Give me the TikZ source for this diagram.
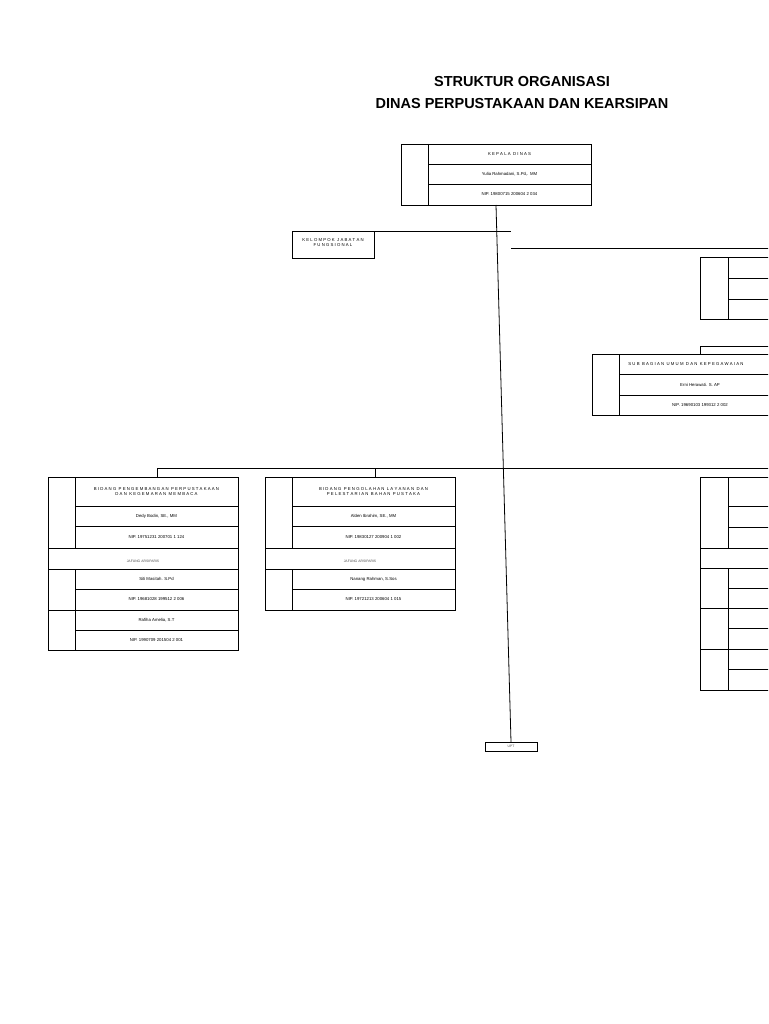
\documentclass[tikz,border=0pt]{standalone}
\usepackage{fontspec}
\setmainfont{Liberation Sans}
\begin{document}
\begin{tikzpicture}[x=1pt,y=-1pt,line width=0.8pt,
  box/.style={draw,anchor=north west,inner sep=0pt,outer sep=0pt},
  tx/.style={font=\fontsize{4.3}{5}\selectfont,align=center,inner sep=0pt},
  jf/.style={font=\fontsize{3.4}{4}\selectfont\color{black!70},inner sep=0pt},
  ttl/.style={font=\fontsize{14.5}{18}\selectfont\bfseries,inner sep=0pt}]
\useasboundingbox (0,0) rectangle (768,1024);
\clip (0,0) rectangle (768,1024);
\node[ttl] (t1) at (522,82) {STRUKTUR ORGANISASI};
\node[ttl] (t2) at (522,104) {DINAS PERPUSTAKAAN DAN KEARSIPAN};
% Kepala
\node[box,minimum width=190pt,minimum height=61pt] (kd) at (401,144) {};
\draw (428,144)--(428,205) (428,164)--(591,164) (428,184)--(591,184);
\node[tx] at (509.5,154) {K E P A L A \ D I N A S};
\node[tx] at (509.5,174) {Yulia Rahmadani, S.Pd,. MM};
\node[tx] at (509.5,194.5) {NIP. 19800715 200604 2 034};
% UPT
\node[box,minimum width=52pt,minimum height=9pt] (upt) at (485,742) {};
\node[jf] at (511,746.5) {UPT};
\draw (kd.south) -- (upt.north);
\coordinate (j1) at (511,231);
\coordinate (j2) at (511,248);
\coordinate (j3) at (511,468);
% Kelompok
\node[box,minimum width=82pt,minimum height=27pt] (kj) at (292,231) {};
\node[tx,align=center] at (333,243) {K E L O M P O K \ J A B A T A N\\F U N G S I O N A L};
\draw (kj.north west) -- (j1);
% right top box
\node[box,minimum width=80pt,minimum height=62pt] (rb) at (700,257) {};
\draw (728,257)--(728,319) (728,278)--(780,278) (728,299)--(780,299);
\draw (j2) -- (780,248);
% sub bagian
\node[box,minimum width=190pt,minimum height=61pt] (sb) at (592,354) {};
\draw (619,354)--(619,415) (619,374)--(782,374) (619,395)--(782,395);
\node[tx,anchor=west] at (628,364) {S U B \ B A G I A N \ U M U M \ D A N \ K E P E G A W A I A N};
\node[tx] at (700,384.5) {Erni Herawati. S. AP};
\node[tx] at (700,405) {NIP. 19690103 199312 2 002};
\coordinate (s1) at (700,346);
\draw (sb.north -| s1) -- (s1) -- (780,346);
% bidang bar
\draw (157,468) -- (780,468);
% left bidang
\node[box,minimum width=190pt,minimum height=173pt] (b1) at (48,477) {};
\draw (157,468) -- (b1.north -| 157,0);
\draw (75,477)--(75,548) (75,569)--(75,650)
      (75,506)--(238,506) (75,526)--(238,526) (48,548)--(238,548) (48,569)--(238,569)
      (75,589)--(238,589) (48,610)--(238,610) (75,630)--(238,630);
\node[tx] at (156.5,491.5) {B I D A N G \ P E N G E M B A N G A N \ P E R P U S T A K A A N\\D A N \ K E G E M A R A N \ M E M B A C A};
\node[tx] at (156.5,516) {Dedy Bodin, SE., MM};
\node[tx] at (156.5,537) {NIP. 19751231 200701 1 124};
\node[jf] at (143,561.5) {JAFUNG ARSIPARIS};
\node[tx] at (156.5,579) {Siti Masitah. S.Pd};
\node[tx] at (156.5,599.5) {NIP. 19681028 199512 2 006};
\node[tx] at (156.5,620) {Rafiha Amelia, S.T};
\node[tx] at (156.5,640) {NIP. 1990709 201504 2 001};
% middle bidang
\node[box,minimum width=190pt,minimum height=133pt] (b2) at (265,477) {};
\draw (375,468) -- (b2.north -| 375,0);
\draw (292,477)--(292,548) (292,569)--(292,610)
      (292,506)--(455,506) (292,526)--(455,526) (265,548)--(455,548) (265,569)--(455,569)
      (292,589)--(455,589);
\node[tx] at (373.5,491.5) {B I D A N G \ P E N G O L A H A N \ L A Y A N A N \ D A N\\P E L E S T A R I A N \ B A H A N \ P U S T A K A};
\node[tx] at (373.5,516) {Alden Ibrahim, SE., MM};
\node[tx] at (373.5,537) {NIP. 19830127 200904 1 002};
\node[jf] at (360,561.5) {JAFUNG ARSIPARIS};
\node[tx] at (373.5,579) {Nanang Rahman, S.Sos};
\node[tx] at (373.5,599.5) {NIP. 19721213 200604 1 015};
% right bidang
\node[box,minimum width=80pt,minimum height=213pt] (b3) at (700,477) {};
\draw (728,477)--(728,548) (728,568)--(728,690)
      (728,506)--(780,506) (728,527)--(780,527) (700,548)--(780,548) (700,568)--(780,568)
      (728,588)--(780,588) (700,608)--(780,608) (728,628)--(780,628)
      (700,649)--(780,649) (728,669)--(780,669);
\end{tikzpicture}
\end{document}
